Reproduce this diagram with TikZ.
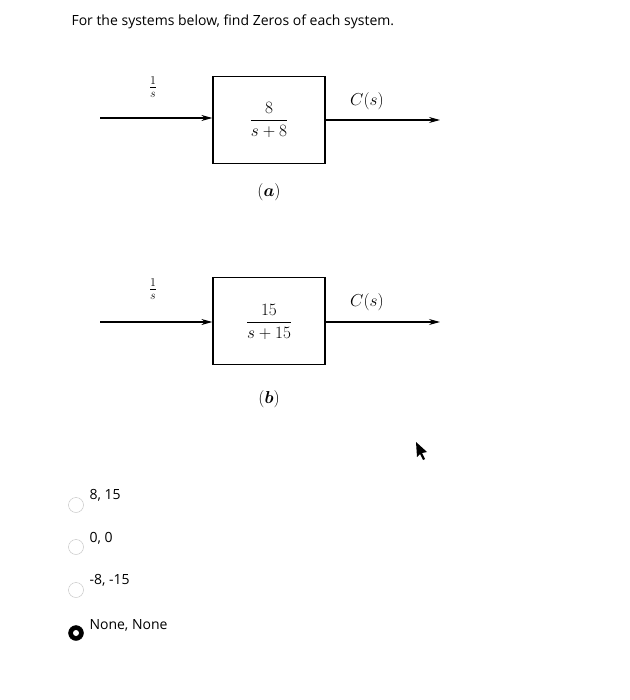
\documentclass[tikz,border=0pt]{standalone}
\usepackage{amsmath,amssymb}
\usepackage{fontspec}
\setmainfont{Liberation Serif}
\newfontfamily\uifont{Open Sans}
\usetikzlibrary{arrows.meta}
\begin{document}
\begin{tikzpicture}[x=1pt,y=-1pt,
  blk/.style={draw,line width=1.3pt,minimum width=112pt,minimum height=87pt,inner sep=0pt},
  sig/.style={line width=1.2pt,-{Stealth[length=11pt,width=6pt]}},
  radio/.style={circle,draw=gray!50,minimum size=15pt,inner sep=0pt},
  ui/.style={font=\uifont\fontsize{14}{16}\selectfont,anchor=west}]
\fill[white] (0,0) rectangle (629,700);
\useasboundingbox (0,0) rectangle (629,700);
\node[ui] (title) at (68,22) {For the systems below, find Zeros of each system.};
% system a
\node[blk] (ba) at (269,120) {};
\node (fa) at (269,120) {\fontsize{17}{20}\selectfont$\dfrac{8}{s+8}$};
\coordinate (ina) at (100,118);
\coordinate (outa) at (440,120);
\draw[sig] (ina) -- (ba.west|-ina);
\draw[sig] (ba.east|-outa) -- (outa);
\node (ia) at (153,87) {\fontsize{17}{20}\selectfont$\frac{1}{s}$};
\node (ca) at (367,101) {\fontsize{17}{20}\selectfont$C(s)$};
\node (la) at (269,192) {\fontsize{17}{20}\selectfont$(\boldsymbol{a})$};
% system b
\node[blk] (bb) at (269,321) {};
\node (fb) at (269,322) {\fontsize{17}{20}\selectfont$\dfrac{15}{s+15}$};
\coordinate (inb) at (100,322);
\coordinate (outb) at (440,322);
\draw[sig] (inb) -- (bb.west|-inb);
\draw[sig] (bb.east|-outb) -- (outb);
\node (ib) at (153,289) {\fontsize{17}{20}\selectfont$\frac{1}{s}$};
\node (cb) at (367,302) {\fontsize{17}{20}\selectfont$C(s)$};
\node (lb) at (269,399) {\fontsize{17}{20}\selectfont$(\boldsymbol{b})$};
% cursor
\fill (416,442) -- (427,452) -- (422,453) -- (425,459) -- (423,460) -- (420,454) -- (417,457) -- cycle;
% radio options
\node[radio] (r1) at (76,505) {};
\node[radio] (r2) at (76,547) {};
\node[radio] (r3) at (76,590) {};
\node[radio,fill=black,draw=black] (r4) at (76,633) {};
\fill[white] (r4) circle (3pt);
\node[ui] (o1) at (86,495) {8, 15};
\node[ui] (o2) at (86,538) {0, 0};
\node[ui] (o3) at (86,580) {-8, -15};
\node[ui] (o4) at (86,625) {None, None};
\end{tikzpicture}
\end{document}
